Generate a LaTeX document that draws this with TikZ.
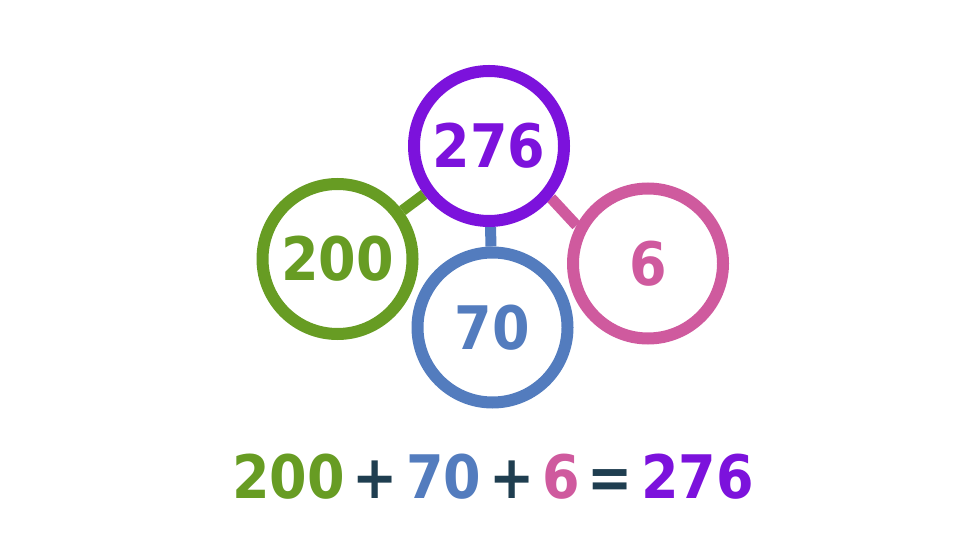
\documentclass[tikz,border=0pt]{standalone}
\usepackage{fontspec}
\setmainfont{DejaVu Sans Condensed}
\usetikzlibrary{positioning,backgrounds}
\definecolor{totalpurple}{RGB}{124,18,220}
\definecolor{hundredgreen}{RGB}{103,156,35}
\definecolor{tenblue}{RGB}{83,124,190}
\definecolor{onepink}{RGB}{207,90,158}
\definecolor{signdark}{RGB}{31,62,80}
\newcommand{\gap}{\hspace{8pt}}

\begin{document}
\begin{tikzpicture}[x=1pt,y=1pt]
		\tikzstyle{part}=[circle, draw, line width=12pt, minimum size=150pt, inner sep=0pt, font=\fontsize{60}{60}\selectfont\bfseries]
		\tikzstyle{link}=[line width=11pt]
		\useasboundingbox (0,0) rectangle (976,549);

		\node [part, draw=totalpurple, text=totalpurple] (total) at (489,403) {276};
		\node [part, draw=hundredgreen, text=hundredgreen] (hundreds) at (337.5,290) {200};
		\node [part, draw=tenblue, text=tenblue] (tens) at (492.5,221.5) {70};
		\node [part, draw=onepink, text=onepink] (ones) at (648,285.5) {6};
		\begin{scope}[on background layer]
			\draw [link, hundredgreen] (total) -- (hundreds);
			\draw [link, tenblue] (total) -- (tens);
			\draw [link, onepink] (total.-40) -- (ones.152);
		\end{scope}

		\node [font=\fontsize{60}{60}\selectfont\bfseries] (sum) at (493,72)
		{\textcolor{hundredgreen}{200}\gap\textcolor{signdark}{+}\gap\textcolor{tenblue}{70}\gap\textcolor{signdark}{+}\gap\textcolor{onepink}{6}\gap\textcolor{signdark}{=}\gap\textcolor{totalpurple}{276}};
	\end{tikzpicture}
\end{document}
